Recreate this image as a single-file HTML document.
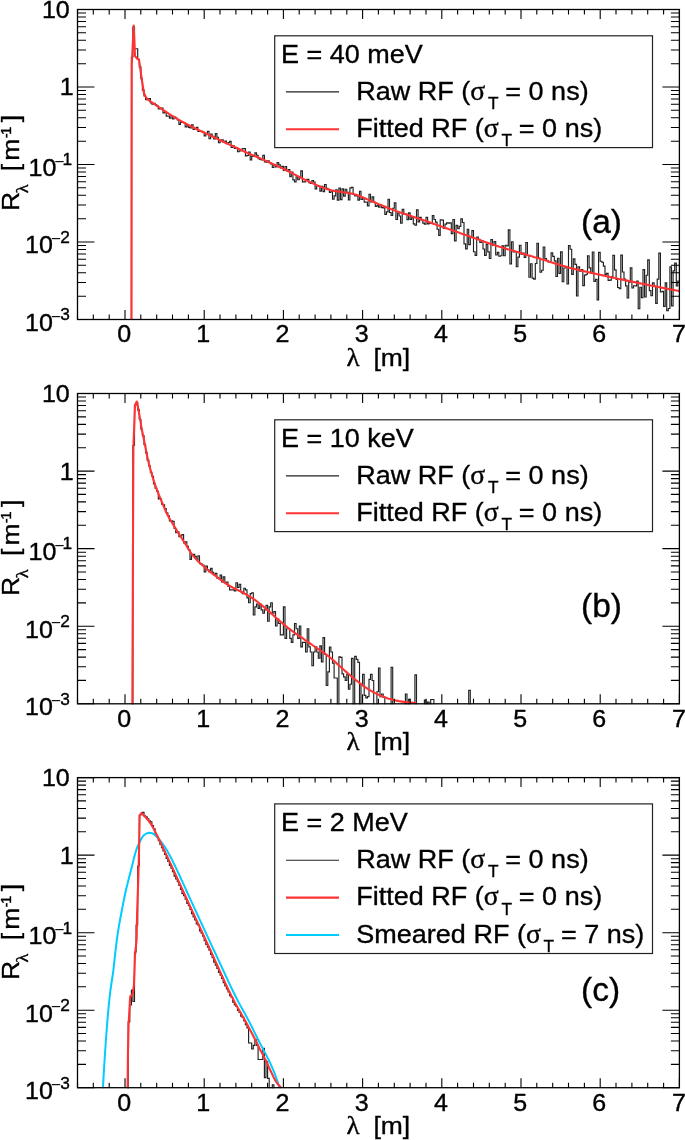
<!DOCTYPE html>
<html lang="en"><head><meta charset="utf-8"><title>Response functions</title>
<style>html,body{margin:0;padding:0;background:#fff;overflow:hidden}svg{display:block}text{font-family:"Liberation Sans", sans-serif;fill:#000;stroke:#000;stroke-width:0.35px}.sy{font-family:"Liberation Serif", serif}</style>
</head><body>
<svg width="685" height="1140" viewBox="0 0 685 1140">
<rect width="685" height="1140" fill="#fff"/>
<defs>
<clipPath id="c0"><rect x="77" y="9" width="602.9" height="311"/></clipPath>
<clipPath id="c1"><rect x="77" y="393" width="602.9" height="311.3"/></clipPath>
<clipPath id="c2"><rect x="77" y="777.1" width="602.9" height="311.1"/></clipPath>
</defs>
<g id="panel0">
<g clip-path="url(#c0)" fill="none" stroke-linejoin="round">
<path d="M77.5,359.5H131.4V57H132.9V27H134.5V48.7H137.7V59.4H139.3V66.8H140.9V78.7H142.4V90.1H144V95.8H145.6V99.7H147.2V99.5H148.8V98.5H150.4V102.8H151.9V104.2H153.5V103.3H155.1V104.5H156.7V106H158.3V108.9H159.9V108.3H161.5V108H163V112.9H164.6V112.3H166.2V116.1H167.8V116H169.4V118.1H171V116H172.5V119H174.1V117H175.7V118.2H177.3V119.8H178.9V124.3H180.5V122.3H182V122.2H183.6V122.7H185.2V126.9H186.8V125.6H188.4V127.5H190V127.9H191.5V124.8H193.1V129.5H194.7V128.6H196.3V127.4H197.9V131.4H199.5V131.1H201.1V131.4H202.6V132.2H204.2V135.8H205.8V133.6H207.4V131.4H209V138.7H210.6V134H212.1V136.4H213.7V138.9H215.3V133.6H216.9V137.2H218.5V142.6H220.1V140.4H221.6V139.9H223.2V142.5H224.8V141.1H226.4V143.7H228V142.6H229.6V141.4H231.1V147.4H232.7V145.9H234.3V148.3H235.9V147.6H237.5V151.7H239.1V150.9H240.7V150.6H242.2V148.5H243.8V148.6H245.4V155.9H247V155.3H248.6V152H250.2V160H251.7V156.4H253.3V156.1H254.9V152.9H256.5V155.2H258.1V158.7H259.7V159.5H261.2V159.8H262.8V155.4H264.4V161.8H266V162.1H267.6V160.9H269.2V163H270.7V163.9H272.3V167.5H273.9V164.8H275.5V166.9H277.1V162.6H278.7V164.9H280.3V167.8H281.8V166.3H283.4V170.3H285V166.5H286.6V170.8H288.2V169.6H289.8V176.7H291.3V172H292.9V179.8H294.5V181.8H296.1V176.7H297.7V179.7H299.3V176.7H300.8V170.8H302.4V181.9H305.6V179.7H307.2V179.3H308.8V182.6H310.3V183.4H311.9V180.6H313.5V182H315.1V188.8H316.7V185.7H318.3V186H319.9V191.1H321.4V186.3H323V191.6H324.6V184.5H326.2V188.3H327.8V189.2H329.4V192.5H330.9V190.8H332.5V199.2H334.1V195.8H335.7V189.7H337.3V200.1H338.9V188H340.4V199.6H342V188.9H343.6V196.1H345.2V189.2H346.8V192.3H348.4V200H349.9V187.9H351.5V187.4H353.1V194.5H354.7V195.9H357.9V200.1H359.5V191.2H361V199.5H362.6V197.9H364.2V202.1H365.8V202H367.4V205.9H369V194.2H370.5V201.8H372.1V196.9H373.7V202.3H375.3V206.5H376.9V205.3H378.5V207.2H380V204.9H381.6V207.6H383.2V207.9H384.8V214.3H386.4V211.9H388V199.2H389.5V212.5H391.1V215.3H392.7V208.2H394.3V202.8H395.9V219.5H397.5V213H399.1V216H400.6V223.2H402.2V209.2H403.8V214.1H407V219.6H408.6V212.8H410.1V219.4H411.7V217.5H413.3V223.9H414.9V225.2H416.5V209.8H418.1V221.9H419.6V217.4H421.2V220H422.8V223.1H424.4V224.1H426V217.3H427.6V223.9H429.1V223.5H430.7V222.9H432.3V215.6H433.9V219.5H435.5V222.1H437.1V229.2H438.7V235.5H440.2V219.7H441.8V220.1H443.4V228.5H445V224.1H446.6V222.9H448.2V223.1H449.7V222.9H451.3V233.6H452.9V219.5H454.5V240.8H456.1V225.4H457.7V228.7H459.2V226.3H460.8V218.9H462.4V222.5H464V243.8H465.6V248.8H467.2V229.2H468.7V244.6H470.3V237H471.9V230.6H473.5V251.7H475.1V255.4H476.7V237H478.3V239.4H479.8V242.5H481.4V240.6H483V249H484.6V255.4H486.2V244.1H487.8V251.8H489.3V258.5H490.9V239.6H492.5V245.3H494.1V241.5H495.7V255H497.3V252.4H498.8V256.2H500.4V255.7H502V245.8H503.6V255.7H505.2V245.2H506.8V245.8H508.3V229.9H509.9V263.8H511.5V241.7H513.1V251.9H514.7V251.6H516.3V266.7H517.9V257.1H519.4V245.2H521V254.2H522.6V253H524.2V257.4H525.8V242.5H527.4V255.5H528.9V277.2H530.5V263.7H532.1V278.1H533.7V279.1H535.3V263.5H536.9V243.2H538.4V258H540V272.2H541.6V270.2H543.2V247H544.8V258.6H546.4V260.4H547.9V262H549.5V261.5H551.1V252.9H552.7V256.3H554.3V260.8H555.9V276.5H557.5V258.2H559V273.3H560.6V251.8H562.2V281.7H563.8V268H565.4V266.8H567V284H568.5V245.6H570.1V249.2H571.7V274.4H573.3V258.8H574.9V264.3H576.5V296H578V266.7H579.6V271.2H581.2V269.6H582.8V285.6H584.4V275.1H586V274.2H587.5V255.9H589.1V267.9H590.7V273H592.3V252H593.9V281.3H595.5V279.4H597.1V299.9H598.6V252.4H600.2V261.2H601.8V262.2H603.4V266.1H605V274.4H606.6V273.3H608.1V280.4H609.7V280.1H611.3V276.6H612.9V255.3H614.5V269.8H616.1V279.3H617.6V287.5H619.2V288.7H620.8V255.1H622.4V272H624V279.1H625.6V285.8H627.1V298H628.7V282.2H630.3V267.8H631.9V288H633.5V285.7H635.1V285.9H636.7V281H638.2V308.7H639.8V287.2H641.4V297.6H643V269.6H644.6V297H646.2V275.2H647.7V259.8H649.3V290.6H650.9V295.7H652.5V282.8H654.1V286.3H655.7V303.4H657.2V279.1H658.8V253.1H660.4V292H662V291.4H663.6V306.3H665.2V282.9H666.7V310.6H668.3V308.5H669.9V266.9H671.5V305.8H673.1V270.8H674.7V263.1H676.3V286H677.8V281H679.4" stroke="#222" stroke-width="1.15" stroke-linejoin="miter"/>
<polyline points="131.5,330 131.8,64.5 133.7,25.5 135,56 137.1,58.7 139,59.7 141.3,76 143.9,92.9 145.4,96.2 146.9,98.5 148.4,100 149.9,101.1 151.4,102.1 152.9,103.2 154.4,104.2 155.9,105.2 157.4,106.1 158.9,107.1 160.4,108.1 161.9,109.1 163.4,110.1 164.9,111.1 166.4,112.1 167.9,113.1 169.4,114.1 170.9,115 172.4,116 173.9,116.9 175.4,117.8 176.9,118.7 178.4,119.6 179.9,120.4 181.4,121.3 182.9,122.1 184.4,122.9 185.9,123.7 187.4,124.5 188.9,125.3 190.4,126.1 191.9,126.8 193.4,127.5 194.9,128.3 196.4,129 197.9,129.7 199.4,130.4 200.9,131.2 202.4,131.8 203.9,132.5 205.4,133.2 206.9,133.9 208.4,134.6 209.9,135.3 211.4,136 212.9,136.7 214.4,137.4 215.9,138.1 217.4,138.9 218.9,139.6 220.4,140.3 221.9,141 223.4,141.8 224.9,142.5 226.4,143.2 227.9,143.9 229.4,144.6 230.9,145.2 232.4,145.9 233.9,146.6 235.4,147.3 236.9,148 238.4,148.7 239.9,149.4 241.4,150.1 242.9,150.8 244.4,151.5 245.9,152.2 247.4,152.9 248.9,153.6 250.4,154.3 251.9,154.9 253.4,155.5 254.9,156.1 256.4,156.7 257.9,157.4 259.4,158 260.9,158.6 262.4,159.3 263.9,159.9 265.4,160.6 266.9,161.3 268.4,161.9 269.9,162.6 271.4,163.3 272.9,164 274.4,164.6 275.9,165.3 277.4,166 278.9,166.7 280.4,167.4 281.9,168.1 283.4,168.8 284.9,169.5 286.4,170.3 287.9,171 289.4,171.8 290.9,172.5 292.4,173.3 293.9,174.1 295.4,174.9 296.9,175.7 298.4,176.4 299.9,177.2 301.4,178 302.9,178.7 304.4,179.5 305.9,180.2 307.4,180.9 308.9,181.6 310.4,182.3 311.9,182.9 313.4,183.6 314.9,184.3 316.4,184.9 317.9,185.6 319.4,186.3 320.9,186.9 322.4,187.5 323.9,188 325.4,188.6 326.9,189.1 328.4,189.5 329.9,189.9 331.4,190.3 332.9,190.6 334.4,190.9 335.9,191.1 337.4,191.4 338.9,191.6 340.4,191.8 341.9,192 343.4,192.3 344.9,192.5 346.4,192.7 347.9,193 349.4,193.2 350.9,193.5 352.4,193.8 353.9,194.2 355.4,194.6 356.9,195.1 358.4,195.6 359.9,196.2 361.4,196.8 362.9,197.4 364.4,198 365.9,198.7 367.4,199.4 368.9,200 370.4,200.7 371.9,201.3 373.4,201.9 374.9,202.5 376.4,203.1 377.9,203.7 379.4,204.4 380.9,205 382.4,205.6 383.9,206.2 385.4,206.8 386.9,207.5 388.4,208.1 389.9,208.7 391.4,209.3 392.9,209.8 394.4,210.4 395.9,211 397.4,211.5 398.9,212.1 400.4,212.6 401.9,213.1 403.4,213.6 404.9,214.1 406.4,214.6 407.9,215.1 409.4,215.6 410.9,216.1 412.4,216.6 413.9,217 415.4,217.5 416.9,218 418.4,218.5 419.9,219 421.4,219.5 422.9,220 424.4,220.6 425.9,221.1 427.4,221.6 428.9,222.1 430.4,222.6 431.9,223.2 433.4,223.7 434.9,224.2 436.4,224.8 437.9,225.3 439.4,225.8 440.9,226.3 442.4,226.9 443.9,227.4 445.4,227.9 446.9,228.4 448.4,229 449.9,229.5 451.4,230 452.9,230.5 454.4,231.1 455.9,231.6 457.4,232.1 458.9,232.6 460.4,233.2 461.9,233.7 463.4,234.2 464.9,234.8 466.4,235.3 467.9,235.8 469.4,236.3 470.9,236.9 472.4,237.4 473.9,237.9 475.4,238.5 476.9,239 478.4,239.5 479.9,240.1 481.4,240.6 482.9,241.2 484.4,241.7 485.9,242.2 487.4,242.7 488.9,243.3 490.4,243.8 491.9,244.3 493.4,244.8 494.9,245.3 496.4,245.7 497.9,246.2 499.4,246.7 500.9,247.1 502.4,247.6 503.9,248 505.4,248.5 506.9,248.9 508.4,249.4 509.9,249.8 511.4,250.3 512.9,250.7 514.4,251.1 515.9,251.6 517.4,252 518.9,252.5 520.4,252.9 521.9,253.4 523.4,253.8 524.9,254.3 526.4,254.7 527.9,255.2 529.4,255.6 530.9,256.1 532.4,256.5 533.9,257 535.4,257.4 536.9,257.8 538.4,258.3 539.9,258.7 541.4,259.2 542.9,259.6 544.4,260.1 545.9,260.5 547.4,261 548.9,261.5 550.4,261.9 551.9,262.4 553.4,262.9 554.9,263.4 556.4,263.8 557.9,264.3 559.4,264.8 560.9,265.2 562.4,265.7 563.9,266.1 565.4,266.5 566.9,267 568.4,267.4 569.9,267.8 571.4,268.2 572.9,268.5 574.4,268.9 575.9,269.3 577.4,269.6 578.9,270 580.4,270.4 581.9,270.7 583.4,271.1 584.9,271.4 586.4,271.7 587.9,272.1 589.4,272.4 590.9,272.7 592.4,273.1 593.9,273.4 595.4,273.7 596.9,274.1 598.4,274.4 599.9,274.7 601.4,275.1 602.9,275.4 604.4,275.7 605.9,276.1 607.4,276.4 608.9,276.7 610.4,277.1 611.9,277.4 613.4,277.7 614.9,278 616.4,278.3 617.9,278.7 619.4,279 620.9,279.3 622.4,279.6 623.9,279.9 625.4,280.3 626.9,280.6 628.4,280.9 629.9,281.2 631.4,281.5 632.9,281.8 634.4,282.1 635.9,282.4 637.4,282.8 638.9,283.1 640.4,283.4 641.9,283.7 643.4,284 644.9,284.3 646.4,284.6 647.9,284.9 649.4,285.2 650.9,285.5 652.4,285.8 653.9,286.1 655.4,286.4 656.9,286.7 658.4,287 659.9,287.3 661.4,287.6 662.9,287.9 664.4,288.2 665.9,288.5 667.4,288.8 668.9,289.1 670.4,289.4 671.9,289.7 673.4,289.9 674.9,290.2 676.4,290.5 677.9,290.8 679.4,291.1" stroke="#ff3333" stroke-width="2.1"/>
</g>
<path d="M77.5,319.5v-5M77.5,9.5v5M93.3,319.5v-5M93.3,9.5v5M109.2,319.5v-5M109.2,9.5v5M125,319.5v-9.5M125,9.5v9.5M140.8,319.5v-5M140.8,9.5v5M156.7,319.5v-5M156.7,9.5v5M172.5,319.5v-5M172.5,9.5v5M188.4,319.5v-5M188.4,9.5v5M204.2,319.5v-9.5M204.2,9.5v9.5M220,319.5v-5M220,9.5v5M235.9,319.5v-5M235.9,9.5v5M251.7,319.5v-5M251.7,9.5v5M267.6,319.5v-5M267.6,9.5v5M283.4,319.5v-9.5M283.4,9.5v9.5M299.2,319.5v-5M299.2,9.5v5M315.1,319.5v-5M315.1,9.5v5M330.9,319.5v-5M330.9,9.5v5M346.8,319.5v-5M346.8,9.5v5M362.6,319.5v-9.5M362.6,9.5v9.5M378.4,319.5v-5M378.4,9.5v5M394.3,319.5v-5M394.3,9.5v5M410.1,319.5v-5M410.1,9.5v5M426,319.5v-5M426,9.5v5M441.8,319.5v-9.5M441.8,9.5v9.5M457.6,319.5v-5M457.6,9.5v5M473.5,319.5v-5M473.5,9.5v5M489.3,319.5v-5M489.3,9.5v5M505.2,319.5v-5M505.2,9.5v5M521,319.5v-9.5M521,9.5v9.5M536.8,319.5v-5M536.8,9.5v5M552.7,319.5v-5M552.7,9.5v5M568.5,319.5v-5M568.5,9.5v5M584.4,319.5v-5M584.4,9.5v5M600.2,319.5v-9.5M600.2,9.5v9.5M616,319.5v-5M616,9.5v5M631.9,319.5v-5M631.9,9.5v5M647.7,319.5v-5M647.7,9.5v5M663.6,319.5v-5M663.6,9.5v5M679.4,319.5v-9.5M679.4,9.5v9.5M77.5,9.5h17M679.4,9.5h-17M77.5,63.7h8.5M679.4,63.7h-8.5M77.5,50h8.5M679.4,50h-8.5M77.5,40.3h8.5M679.4,40.3h-8.5M77.5,32.8h8.5M679.4,32.8h-8.5M77.5,26.7h8.5M679.4,26.7h-8.5M77.5,21.5h8.5M679.4,21.5h-8.5M77.5,17h8.5M679.4,17h-8.5M77.5,13h8.5M679.4,13h-8.5M77.5,87h17M679.4,87h-17M77.5,141.2h8.5M679.4,141.2h-8.5M77.5,127.5h8.5M679.4,127.5h-8.5M77.5,117.8h8.5M679.4,117.8h-8.5M77.5,110.3h8.5M679.4,110.3h-8.5M77.5,104.2h8.5M679.4,104.2h-8.5M77.5,99h8.5M679.4,99h-8.5M77.5,94.5h8.5M679.4,94.5h-8.5M77.5,90.5h8.5M679.4,90.5h-8.5M77.5,164.5h17M679.4,164.5h-17M77.5,218.7h8.5M679.4,218.7h-8.5M77.5,205h8.5M679.4,205h-8.5M77.5,195.3h8.5M679.4,195.3h-8.5M77.5,187.8h8.5M679.4,187.8h-8.5M77.5,181.7h8.5M679.4,181.7h-8.5M77.5,176.5h8.5M679.4,176.5h-8.5M77.5,172h8.5M679.4,172h-8.5M77.5,168h8.5M679.4,168h-8.5M77.5,242h17M679.4,242h-17M77.5,296.2h8.5M679.4,296.2h-8.5M77.5,282.5h8.5M679.4,282.5h-8.5M77.5,272.8h8.5M679.4,272.8h-8.5M77.5,265.3h8.5M679.4,265.3h-8.5M77.5,259.2h8.5M679.4,259.2h-8.5M77.5,254h8.5M679.4,254h-8.5M77.5,249.5h8.5M679.4,249.5h-8.5M77.5,245.5h8.5M679.4,245.5h-8.5M77.5,319.5h17M679.4,319.5h-17" stroke="#000" stroke-width="1.1" fill="none"/>
<rect x="77.5" y="9.5" width="601.9" height="310" fill="none" stroke="#000" stroke-width="1.3"/>
<text transform="translate(124.1,342.4) scale(1.08,1)" font-size="23.2" text-anchor="middle">0</text>
<text transform="translate(203.3,342.4) scale(1.08,1)" font-size="23.2" text-anchor="middle">1</text>
<text transform="translate(282.5,342.4) scale(1.08,1)" font-size="23.2" text-anchor="middle">2</text>
<text transform="translate(361.7,342.4) scale(1.08,1)" font-size="23.2" text-anchor="middle">3</text>
<text transform="translate(440.9,342.4) scale(1.08,1)" font-size="23.2" text-anchor="middle">4</text>
<text transform="translate(520.1,342.4) scale(1.08,1)" font-size="23.2" text-anchor="middle">5</text>
<text transform="translate(599.3,342.4) scale(1.08,1)" font-size="23.2" text-anchor="middle">6</text>
<text transform="translate(679,342.4) scale(1.08,1)" font-size="23.2" text-anchor="middle">7</text>
<text transform="translate(346.5,365.7) scale(1.08,1)" font-size="24.5"><tspan class="sy" font-size="25">λ</tspan><tspan x="25">[m]</tspan></text>
<text transform="translate(69.8,17.9) scale(1.08,1)" font-size="23.2" text-anchor="end">10</text>
<text transform="translate(73.6,95.4) scale(1.08,1)" font-size="23.2" text-anchor="end">1</text>
<text transform="translate(28.6,175.9) scale(1.08,1)" font-size="23.2">10<tspan x="23.8" dy="-9.4" font-size="16" stroke="none">−</tspan><tspan x="31.4" dy="-1.2" font-size="16">1</tspan></text>
<text transform="translate(25,253.4) scale(1.08,1)" font-size="23.2">10<tspan x="23.8" dy="-9.4" font-size="16" stroke="none">−</tspan><tspan x="32.6" dy="-1.2" font-size="16">2</tspan></text>
<text transform="translate(25,330.9) scale(1.08,1)" font-size="23.2">10<tspan x="23.8" dy="-9.4" font-size="16" stroke="none">−</tspan><tspan x="32.6" dy="-1.2" font-size="16">3</tspan></text>
<text transform="translate(19.3,211) rotate(-90) scale(1.08,1)" font-size="24.5">R<tspan class="sy" x="16.4" dy="8.2" font-size="17">λ</tspan><tspan x="36.9" dy="-8.2">[</tspan><tspan x="46.6">m</tspan><tspan x="67.3" dy="-8.3" font-size="14">-</tspan><tspan x="70.4" font-size="14">1</tspan><tspan x="82.3" dy="8.3">]</tspan></text>
<text transform="translate(581.1,232.8) scale(1.03,1)" font-size="32.5">(a)</text>
<rect x="274.7" y="35.8" width="377.8" height="111.8" fill="#fff" stroke="#222" stroke-width="1.2"/>
<text transform="translate(281,62.5) scale(1.047,1)" font-size="25.8">E = 40 meV</text>
<path d="M286,91.9H339" stroke="#222" stroke-width="1.15" fill="none"/>
<text transform="translate(356.3,99.7) scale(1.047,1)" font-size="25.8">Raw RF (<tspan class="sy" font-size="26.5">σ</tspan><tspan dy="9.4" dx="2.5" font-size="16.5">T</tspan><tspan dy="-9.4" dx="-0.6"> = 0 ns)</tspan></text>
<path d="M286,129.2H339" stroke="#ff3333" stroke-width="2.1" fill="none"/>
<text transform="translate(356.3,137) scale(1.047,1)" font-size="25.8">Fitted RF (<tspan class="sy" font-size="26.5">σ</tspan><tspan dy="9.4" dx="2.5" font-size="16.5">T</tspan><tspan dy="-9.4" dx="-0.6"> = 0 ns)</tspan></text>
</g>
<g id="panel1">
<g clip-path="url(#c1)" fill="none" stroke-linejoin="round">
<path d="M77.5,743.5H132.9V445.5H134.5V405H136.1V402.5H137.7V409.9H139.3V419.5H140.9V429.2H142.4V435.6H144V444.7H145.6V452.9H147.2V460.4H148.8V466H150.4V472.3H151.9V476.2H153.5V483.9H155.1V488.2H156.7V491.3H158.3V498.9H159.9V498.7H161.5V504.2H163V504.7H164.6V508.6H166.2V512.8H167.8V515.8H169.4V520.8H171V520.7H172.5V521.4H174.1V528.4H175.7V532.7H177.3V531.9H178.9V536.6H180.5V535.9H182V534.5H183.6V543H185.2V541.9H186.8V546.2H188.4V549.8H190V559.4H191.5V555.1H193.1V554.4H194.7V556.3H196.3V559.4H197.9V555.7H199.5V563.6H201.1V564H202.6V565.3H204.2V571.8H205.8V566.1H207.4V569.8H209V571.8H210.6V568.4H212.1V572.4H213.7V574.5H215.3V573.4H216.9V578.1H218.5V578.7H220.1V575.1H221.6V582H223.2V576.8H224.8V582.7H226.4V582H228V586.5H229.6V589.9H234.3V590.8H235.9V582.7H237.5V587.3H239.1V584.2H240.7V591.7H242.2V593.6H243.8V588.2H245.4V589.9H247V597.9H248.6V602.7H250.2V593.6H251.7V592.7H253.3V615H254.9V606.8H256.5V604H258.1V608.3H259.7V604H261.2V609.9H262.8V613.2H264.4V609.9H266V605.4H267.6V621.2H269.2V606.8H270.7V602.7H272.3V613.2H273.9V611.5H275.5V626H277.1V619H278.7V623.5H280.3V634.8H283.4V606.8H285V638.4H286.6V628.7H289.8V638.4H291.3V642.3H292.9V634.8H294.5V623.5H296.1V628.7H297.7V638.4H299.3V626H300.8V646.8H302.4V642.3H305.6V652H307.2V628.7H308.8V646.8H310.3V652H311.9V665.7H313.5V652H315.1V646.8H316.7V652H318.3V658.2H319.9V645.8H321.4V661.9H323V637.6H324.6V654.4H326.2V685.5H327.8V671.8H329.4V647H330.9V652H332.5V663.1H334.1V678H337.3V728.9H338.9V656.9H340.4V657.4H342V673.8H343.6V676.8H345.2V680.5H346.8V674.3H348.4V689.2H349.9V684.2H351.5V658.4H353.1V728.9H354.7V656.4H356.3V659.4H357.9V662.4H359.5V728.9H361V684.2H362.6V674.3H364.2V695.4H365.8V697.9H367.4V696.6H369V679.3H370.5V674.3H372.1V680.5H373.7V728.9H376.9V691.7H378.5V668H380V696.6H381.6V694H383.2V697.5H384.8V728.9H389.5V743.5H391.1V667.3H392.7V743.5H405.4V694H407V743.5H408.6V699.3H410.1V743.5H414.9V674.8H416.5V743.5H424.4V700H426V743.5H427.6V702H429.1V743.5H430.7V699.5H433.9V743.5H468.7V690.4H470.3V743.5H679.4" stroke="#222" stroke-width="1.15" stroke-linejoin="miter"/>
<polyline points="132.3,715 133.1,515 133.4,447.6 135,405.5 136.8,401.5 138.3,408.7 139.8,417.4 141.3,426.6 142.8,434.2 144.3,441.4 145.8,449.2 147.3,456.8 148.8,463.3 150.3,469 151.8,474.3 153.3,479.3 154.8,483.9 156.3,488.1 157.8,492 159.3,495.8 160.8,499.4 162.3,503.1 163.8,506.7 165.3,510.2 166.8,513.4 168.3,516.3 169.8,519 171.3,521.5 172.8,523.9 174.3,526.3 175.8,528.8 177.3,531.2 178.8,533.6 180.3,536 181.8,538.3 183.3,540.7 184.8,543 186.3,545.5 187.8,548 189.3,550.4 190.8,552.7 192.3,554.8 193.8,556.6 195.3,558.3 196.8,559.9 198.3,561.4 199.8,562.8 201.3,564.2 202.8,565.5 204.3,566.9 205.8,568.2 207.3,569.5 208.8,570.7 210.3,571.9 211.8,573.1 213.3,574.3 214.8,575.4 216.3,576.5 217.8,577.6 219.3,578.8 220.8,579.9 222.3,581 223.8,582.1 225.3,583.1 226.8,584.2 228.3,585.1 229.8,586 231.3,586.8 232.8,587.6 234.3,588.3 235.8,589.1 237.3,589.8 238.8,590.5 240.3,591.2 241.8,592 243.3,592.8 244.8,593.7 246.3,594.5 247.8,595.4 249.3,596.3 250.8,597.2 252.3,598.2 253.8,599.2 255.3,600.2 256.8,601.3 258.3,602.5 259.8,603.7 261.3,604.9 262.8,606.1 264.3,607.4 265.8,608.7 267.3,609.9 268.8,611.2 270.3,612.6 271.8,613.9 273.3,615.3 274.8,616.6 276.3,618 277.8,619.3 279.3,620.6 280.8,621.9 282.3,623.1 283.8,624.4 285.3,625.6 286.8,626.8 288.3,628 289.8,629.2 291.3,630.3 292.8,631.4 294.3,632.5 295.8,633.6 297.3,634.6 298.8,635.7 300.3,636.7 301.8,637.7 303.3,638.7 304.8,639.8 306.3,640.8 307.8,641.9 309.3,642.9 310.8,643.9 312.3,645 313.8,646 315.3,647.1 316.8,648.1 318.3,649.1 319.8,650.2 321.3,651.2 322.8,652.2 324.3,653.2 325.8,654.3 327.3,655.4 328.8,656.5 330.3,657.7 331.8,659 333.3,660.3 334.8,661.6 336.3,663 337.8,664.4 339.3,665.8 340.8,667.1 342.3,668.5 343.8,669.8 345.3,671.1 346.8,672.4 348.3,673.7 349.8,675 351.3,676.3 352.8,677.6 354.3,678.8 355.8,680.1 357.3,681.2 358.8,682.4 360.3,683.5 361.8,684.7 363.3,685.8 364.8,686.9 366.3,687.9 367.8,688.9 369.3,689.8 370.8,690.7 372.3,691.5 373.8,692.4 375.3,693.1 376.8,693.9 378.3,694.6 379.8,695.3 381.3,695.9 382.8,696.5 384.3,697.1 385.8,697.6 387.3,698.2 388.8,698.7 390.3,699.1 391.8,699.6 393.3,699.9 394.8,700.3 396.3,700.6 397.8,700.9 399.3,701.2 400.8,701.4 402.3,701.6 403.8,701.9 405.3,702 406.8,702.2 408.3,702.3 409.8,702.5 411.3,702.6 412.8,702.7 414.3,702.8 415.8,702.9 416.3,702.9" stroke="#ff3333" stroke-width="2.1"/>
</g>
<path d="M77.5,703.8v-5M77.5,393.5v5M93.3,703.8v-5M93.3,393.5v5M109.2,703.8v-5M109.2,393.5v5M125,703.8v-9.5M125,393.5v9.5M140.8,703.8v-5M140.8,393.5v5M156.7,703.8v-5M156.7,393.5v5M172.5,703.8v-5M172.5,393.5v5M188.4,703.8v-5M188.4,393.5v5M204.2,703.8v-9.5M204.2,393.5v9.5M220,703.8v-5M220,393.5v5M235.9,703.8v-5M235.9,393.5v5M251.7,703.8v-5M251.7,393.5v5M267.6,703.8v-5M267.6,393.5v5M283.4,703.8v-9.5M283.4,393.5v9.5M299.2,703.8v-5M299.2,393.5v5M315.1,703.8v-5M315.1,393.5v5M330.9,703.8v-5M330.9,393.5v5M346.8,703.8v-5M346.8,393.5v5M362.6,703.8v-9.5M362.6,393.5v9.5M378.4,703.8v-5M378.4,393.5v5M394.3,703.8v-5M394.3,393.5v5M410.1,703.8v-5M410.1,393.5v5M426,703.8v-5M426,393.5v5M441.8,703.8v-9.5M441.8,393.5v9.5M457.6,703.8v-5M457.6,393.5v5M473.5,703.8v-5M473.5,393.5v5M489.3,703.8v-5M489.3,393.5v5M505.2,703.8v-5M505.2,393.5v5M521,703.8v-9.5M521,393.5v9.5M536.8,703.8v-5M536.8,393.5v5M552.7,703.8v-5M552.7,393.5v5M568.5,703.8v-5M568.5,393.5v5M584.4,703.8v-5M584.4,393.5v5M600.2,703.8v-9.5M600.2,393.5v9.5M616,703.8v-5M616,393.5v5M631.9,703.8v-5M631.9,393.5v5M647.7,703.8v-5M647.7,393.5v5M663.6,703.8v-5M663.6,393.5v5M679.4,703.8v-9.5M679.4,393.5v9.5M77.5,393.5h17M679.4,393.5h-17M77.5,447.7h8.5M679.4,447.7h-8.5M77.5,434.1h8.5M679.4,434.1h-8.5M77.5,424.4h8.5M679.4,424.4h-8.5M77.5,416.9h8.5M679.4,416.9h-8.5M77.5,410.7h8.5M679.4,410.7h-8.5M77.5,405.5h8.5M679.4,405.5h-8.5M77.5,401h8.5M679.4,401h-8.5M77.5,397h8.5M679.4,397h-8.5M77.5,471.1h17M679.4,471.1h-17M77.5,525.3h8.5M679.4,525.3h-8.5M77.5,511.6h8.5M679.4,511.6h-8.5M77.5,501.9h8.5M679.4,501.9h-8.5M77.5,494.4h8.5M679.4,494.4h-8.5M77.5,488.3h8.5M679.4,488.3h-8.5M77.5,483.1h8.5M679.4,483.1h-8.5M77.5,478.6h8.5M679.4,478.6h-8.5M77.5,474.6h8.5M679.4,474.6h-8.5M77.5,548.6h17M679.4,548.6h-17M77.5,602.9h8.5M679.4,602.9h-8.5M77.5,589.2h8.5M679.4,589.2h-8.5M77.5,579.5h8.5M679.4,579.5h-8.5M77.5,572h8.5M679.4,572h-8.5M77.5,565.9h8.5M679.4,565.9h-8.5M77.5,560.7h8.5M679.4,560.7h-8.5M77.5,556.2h8.5M679.4,556.2h-8.5M77.5,552.2h8.5M679.4,552.2h-8.5M77.5,626.2h17M679.4,626.2h-17M77.5,680.4h8.5M679.4,680.4h-8.5M77.5,666.8h8.5M679.4,666.8h-8.5M77.5,657.1h8.5M679.4,657.1h-8.5M77.5,649.6h8.5M679.4,649.6h-8.5M77.5,643.4h8.5M679.4,643.4h-8.5M77.5,638.2h8.5M679.4,638.2h-8.5M77.5,633.7h8.5M679.4,633.7h-8.5M77.5,629.8h8.5M679.4,629.8h-8.5M77.5,703.8h17M679.4,703.8h-17" stroke="#000" stroke-width="1.1" fill="none"/>
<rect x="77.5" y="393.5" width="601.9" height="310.3" fill="none" stroke="#000" stroke-width="1.3"/>
<text transform="translate(124.1,726.7) scale(1.08,1)" font-size="23.2" text-anchor="middle">0</text>
<text transform="translate(203.3,726.7) scale(1.08,1)" font-size="23.2" text-anchor="middle">1</text>
<text transform="translate(282.5,726.7) scale(1.08,1)" font-size="23.2" text-anchor="middle">2</text>
<text transform="translate(361.7,726.7) scale(1.08,1)" font-size="23.2" text-anchor="middle">3</text>
<text transform="translate(440.9,726.7) scale(1.08,1)" font-size="23.2" text-anchor="middle">4</text>
<text transform="translate(520.1,726.7) scale(1.08,1)" font-size="23.2" text-anchor="middle">5</text>
<text transform="translate(599.3,726.7) scale(1.08,1)" font-size="23.2" text-anchor="middle">6</text>
<text transform="translate(679,726.7) scale(1.08,1)" font-size="23.2" text-anchor="middle">7</text>
<text transform="translate(346.5,750) scale(1.08,1)" font-size="24.5"><tspan class="sy" font-size="25">λ</tspan><tspan x="25">[m]</tspan></text>
<text transform="translate(69.8,401.9) scale(1.08,1)" font-size="23.2" text-anchor="end">10</text>
<text transform="translate(73.6,479.5) scale(1.08,1)" font-size="23.2" text-anchor="end">1</text>
<text transform="translate(28.6,560) scale(1.08,1)" font-size="23.2">10<tspan x="23.8" dy="-9.4" font-size="16" stroke="none">−</tspan><tspan x="31.4" dy="-1.2" font-size="16">1</tspan></text>
<text transform="translate(25,637.6) scale(1.08,1)" font-size="23.2">10<tspan x="23.8" dy="-9.4" font-size="16" stroke="none">−</tspan><tspan x="32.6" dy="-1.2" font-size="16">2</tspan></text>
<text transform="translate(25,715.2) scale(1.08,1)" font-size="23.2">10<tspan x="23.8" dy="-9.4" font-size="16" stroke="none">−</tspan><tspan x="32.6" dy="-1.2" font-size="16">3</tspan></text>
<text transform="translate(19.3,595.9) rotate(-90) scale(1.08,1)" font-size="24.5">R<tspan class="sy" x="16.4" dy="8.2" font-size="17">λ</tspan><tspan x="36.9" dy="-8.2">[</tspan><tspan x="46.6">m</tspan><tspan x="67.3" dy="-8.3" font-size="14">-</tspan><tspan x="70.4" font-size="14">1</tspan><tspan x="82.3" dy="8.3">]</tspan></text>
<text transform="translate(581.1,616.8) scale(1.03,1)" font-size="32.5">(b)</text>
<rect x="274.7" y="419.8" width="377.8" height="111.8" fill="#fff" stroke="#222" stroke-width="1.2"/>
<text transform="translate(281,446.5) scale(1.047,1)" font-size="25.8">E = 10 keV</text>
<path d="M286,475.9H339" stroke="#222" stroke-width="1.15" fill="none"/>
<text transform="translate(356.3,483.7) scale(1.047,1)" font-size="25.8">Raw RF (<tspan class="sy" font-size="26.5">σ</tspan><tspan dy="9.4" dx="2.5" font-size="16.5">T</tspan><tspan dy="-9.4" dx="-0.6"> = 0 ns)</tspan></text>
<path d="M286,513.2H339" stroke="#ff3333" stroke-width="2.1" fill="none"/>
<text transform="translate(356.3,521) scale(1.047,1)" font-size="25.8">Fitted RF (<tspan class="sy" font-size="26.5">σ</tspan><tspan dy="9.4" dx="2.5" font-size="16.5">T</tspan><tspan dy="-9.4" dx="-0.6"> = 0 ns)</tspan></text>
</g>
<g id="panel2">
<g clip-path="url(#c2)" fill="none" stroke-linejoin="round">
<path d="M77.5,1127.6H128.2V1022H129.8V1005H131.4V990H132.9V1001.5H134.5V952H136.1V925H137.7V866H139.3V815H140.9V813.5H142.4V812.4H144V815.8H145.6V816.9H147.2V818.7H148.8V820.7H150.4V821.7H151.9V825.6H153.5V828.7H155.1V835.1H156.7V837.2H158.3V840.7H159.9V844.5H161.5V847.7H163V850.8H164.6V854.5H166.2V858.3H167.8V861.3H169.4V865.4H171V868.1H172.5V871.7H174.1V876.1H175.7V878.9H177.3V881.7H178.9V885.4H180.5V889.3H182V893.6H183.6V895.7H185.2V899.2H186.8V903.4H188.4V905.7H190V909.5H191.5V913.6H193.1V916.9H194.7V920H196.3V923.8H197.9V925.1H199.5V930.9H201.1V933.1H202.6V936.1H204.2V940.7H205.8V944.4H207.4V947.1H209V950.1H210.6V954.3H212.1V957.7H213.7V962.1H215.3V965.2H216.9V968.4H218.5V972.5H220.1V975.2H221.6V978.3H223.2V982.6H224.8V986H226.4V988.9H228V991.9H229.6V995.7H231.1V997.2H232.7V1002.2H234.3V1005H235.9V1006.5H237.5V1010.3H239.1V1012.4H240.7V1016.2H242.2V1017.3H243.8V1020.8H245.4V1024.7H247V1027.9H248.6V1043H251.7V1049H253.3V1045.4H254.9V1039.8H256.5V1045.4H258.1V1059.5H262.8V1048.4H264.4V1077.6H266V1061.5H267.6V1078.4H269.2V1127.6H272.3V1084.8H273.9V1127.6H679.4" stroke="#222" stroke-width="1.15" stroke-linejoin="miter"/>
<polyline points="102.8,1090 104.3,1064.2 105.8,1041.5 107.3,1021.9 108.8,1004.9 110.3,991.1 111.8,981 113.3,970.8 114.8,957.1 116.3,944.1 117.8,932.9 119.3,923.9 120.8,915.8 122.3,907.9 123.8,900.2 125.3,893 126.8,886.5 128.3,880.6 129.8,874.8 131.3,869 132.8,862.9 134.3,856.8 135.8,851.4 137.3,847.2 138.8,843.8 140.3,840.8 141.8,838 143.3,835.8 144.8,834.5 146.3,833.6 147.8,833.1 149.3,832.8 150.8,832.9 152.3,833.3 153.8,834 155.3,835.2 156.8,836.8 158.3,838.4 159.8,840.1 161.3,842 162.8,844 164.3,846.2 165.8,848.6 167.3,851.1 168.8,853.7 170.3,856.5 171.8,859.4 173.3,862.4 174.8,865.5 176.3,868.6 177.8,871.8 179.3,875 180.8,878.3 182.3,881.6 183.8,884.9 185.3,888.2 186.8,891.5 188.3,894.8 189.8,898.1 191.3,901.3 192.8,904.5 194.3,907.8 195.8,911 197.3,914.3 198.8,917.6 200.3,920.8 201.8,924.1 203.3,927.3 204.8,930.6 206.3,933.8 207.8,937.1 209.3,940.3 210.8,943.6 212.3,946.8 213.8,950 215.3,953.2 216.8,956.5 218.3,959.7 219.8,963 221.3,966.2 222.8,969.5 224.3,972.7 225.8,976 227.3,979.2 228.8,982.4 230.3,985.6 231.8,988.7 233.3,991.8 234.8,994.8 236.3,997.8 237.8,1000.8 239.3,1003.6 240.8,1006.4 242.3,1009.1 243.8,1011.8 245.3,1014.5 246.8,1017.2 248.3,1020 249.8,1022.9 251.3,1025.8 252.8,1028.9 254.3,1031.9 255.8,1035 257.3,1038 258.8,1041 260.3,1043.9 261.8,1046.8 263.3,1049.6 264.8,1052.4 266.3,1055.2 267.8,1058.1 269.3,1061.2 270.8,1064.4 272.3,1067.8 273.8,1071.4 275.3,1075.3 276.8,1079.5 278.3,1083.9 279.7,1088.5" stroke="#00ccff" stroke-width="2.0"/>
<polyline points="127.6,1090 127.9,1056.3 128.6,1024.3 129.7,1004.9 130.2,996.4 132.6,994.9 133.9,985.5 134.5,970 135,955.3 136.6,939.5 137.1,913.2 138.2,881.6 138.9,856 139.7,815.8 141.3,813 142.8,814.4 144.3,815.9 145.8,817.5 147.3,819.2 148.8,821 150.3,823 151.8,825.4 153.3,828 154.8,830.9 156.3,834 157.8,837 159.3,840 160.8,843 162.3,846.3 163.8,849.5 165.3,852.6 166.8,855.8 168.3,858.9 169.8,862.1 171.3,865.3 172.8,868.6 174.3,871.8 175.8,875.1 177.3,878.4 178.8,881.6 180.3,884.9 181.8,888.2 183.3,891.5 184.8,894.8 186.3,898 187.8,901.3 189.3,904.6 190.8,907.8 192.3,911.1 193.8,914.3 195.3,917.6 196.8,920.8 198.3,924.1 199.8,927.3 201.3,930.5 202.8,933.8 204.3,937 205.8,940.3 207.3,943.5 208.8,946.8 210.3,950 211.8,953.3 213.3,956.6 214.8,959.9 216.3,963.2 217.8,966.5 219.3,969.9 220.8,973.2 222.3,976.5 223.8,979.8 225.3,983.1 226.8,986.3 228.3,989.5 229.8,992.6 231.3,995.7 232.8,998.6 234.3,1001.5 235.8,1004.3 237.3,1007 238.8,1009.6 240.3,1012.2 241.8,1014.8 243.3,1017.4 244.8,1020.1 246.3,1022.8 247.8,1025.6 249.3,1028.4 250.8,1031.2 252.3,1034 253.8,1036.9 255.3,1039.8 256.8,1042.8 258.3,1046 259.8,1049 261.3,1051.8 262.8,1054.6 264.3,1057.5 265.8,1060.5 267.3,1063.8 268.8,1067 270.3,1070.3 271.8,1073.4 273.3,1076.6 274.8,1079.6 276.3,1082 277.8,1084.1 279.3,1085.8 280.8,1087.3 281.5,1087.8" stroke="#ff3333" stroke-width="2.1"/>
</g>
<path d="M77.5,1087.7v-5M77.5,777.6v5M93.3,1087.7v-5M93.3,777.6v5M109.2,1087.7v-5M109.2,777.6v5M125,1087.7v-9.5M125,777.6v9.5M140.8,1087.7v-5M140.8,777.6v5M156.7,1087.7v-5M156.7,777.6v5M172.5,1087.7v-5M172.5,777.6v5M188.4,1087.7v-5M188.4,777.6v5M204.2,1087.7v-9.5M204.2,777.6v9.5M220,1087.7v-5M220,777.6v5M235.9,1087.7v-5M235.9,777.6v5M251.7,1087.7v-5M251.7,777.6v5M267.6,1087.7v-5M267.6,777.6v5M283.4,1087.7v-9.5M283.4,777.6v9.5M299.2,1087.7v-5M299.2,777.6v5M315.1,1087.7v-5M315.1,777.6v5M330.9,1087.7v-5M330.9,777.6v5M346.8,1087.7v-5M346.8,777.6v5M362.6,1087.7v-9.5M362.6,777.6v9.5M378.4,1087.7v-5M378.4,777.6v5M394.3,1087.7v-5M394.3,777.6v5M410.1,1087.7v-5M410.1,777.6v5M426,1087.7v-5M426,777.6v5M441.8,1087.7v-9.5M441.8,777.6v9.5M457.6,1087.7v-5M457.6,777.6v5M473.5,1087.7v-5M473.5,777.6v5M489.3,1087.7v-5M489.3,777.6v5M505.2,1087.7v-5M505.2,777.6v5M521,1087.7v-9.5M521,777.6v9.5M536.8,1087.7v-5M536.8,777.6v5M552.7,1087.7v-5M552.7,777.6v5M568.5,1087.7v-5M568.5,777.6v5M584.4,1087.7v-5M584.4,777.6v5M600.2,1087.7v-9.5M600.2,777.6v9.5M616,1087.7v-5M616,777.6v5M631.9,1087.7v-5M631.9,777.6v5M647.7,1087.7v-5M647.7,777.6v5M663.6,1087.7v-5M663.6,777.6v5M679.4,1087.7v-9.5M679.4,777.6v9.5M77.5,777.6h17M679.4,777.6h-17M77.5,831.8h8.5M679.4,831.8h-8.5M77.5,818.1h8.5M679.4,818.1h-8.5M77.5,808.5h8.5M679.4,808.5h-8.5M77.5,800.9h8.5M679.4,800.9h-8.5M77.5,794.8h8.5M679.4,794.8h-8.5M77.5,789.6h8.5M679.4,789.6h-8.5M77.5,785.1h8.5M679.4,785.1h-8.5M77.5,781.1h8.5M679.4,781.1h-8.5M77.5,855.1h17M679.4,855.1h-17M77.5,909.3h8.5M679.4,909.3h-8.5M77.5,895.7h8.5M679.4,895.7h-8.5M77.5,886h8.5M679.4,886h-8.5M77.5,878.5h8.5M679.4,878.5h-8.5M77.5,872.3h8.5M679.4,872.3h-8.5M77.5,867.1h8.5M679.4,867.1h-8.5M77.5,862.6h8.5M679.4,862.6h-8.5M77.5,858.7h8.5M679.4,858.7h-8.5M77.5,932.7h17M679.4,932.7h-17M77.5,986.8h8.5M679.4,986.8h-8.5M77.5,973.2h8.5M679.4,973.2h-8.5M77.5,963.5h8.5M679.4,963.5h-8.5M77.5,956h8.5M679.4,956h-8.5M77.5,949.8h8.5M679.4,949.8h-8.5M77.5,944.7h8.5M679.4,944.7h-8.5M77.5,940.2h8.5M679.4,940.2h-8.5M77.5,936.2h8.5M679.4,936.2h-8.5M77.5,1010.2h17M679.4,1010.2h-17M77.5,1064.4h8.5M679.4,1064.4h-8.5M77.5,1050.7h8.5M679.4,1050.7h-8.5M77.5,1041h8.5M679.4,1041h-8.5M77.5,1033.5h8.5M679.4,1033.5h-8.5M77.5,1027.4h8.5M679.4,1027.4h-8.5M77.5,1022.2h8.5M679.4,1022.2h-8.5M77.5,1017.7h8.5M679.4,1017.7h-8.5M77.5,1013.7h8.5M679.4,1013.7h-8.5M77.5,1087.7h17M679.4,1087.7h-17" stroke="#000" stroke-width="1.1" fill="none"/>
<rect x="77.5" y="777.6" width="601.9" height="310.1" fill="none" stroke="#000" stroke-width="1.3"/>
<text transform="translate(124.1,1110.6) scale(1.08,1)" font-size="23.2" text-anchor="middle">0</text>
<text transform="translate(203.3,1110.6) scale(1.08,1)" font-size="23.2" text-anchor="middle">1</text>
<text transform="translate(282.5,1110.6) scale(1.08,1)" font-size="23.2" text-anchor="middle">2</text>
<text transform="translate(361.7,1110.6) scale(1.08,1)" font-size="23.2" text-anchor="middle">3</text>
<text transform="translate(440.9,1110.6) scale(1.08,1)" font-size="23.2" text-anchor="middle">4</text>
<text transform="translate(520.1,1110.6) scale(1.08,1)" font-size="23.2" text-anchor="middle">5</text>
<text transform="translate(599.3,1110.6) scale(1.08,1)" font-size="23.2" text-anchor="middle">6</text>
<text transform="translate(679,1110.6) scale(1.08,1)" font-size="23.2" text-anchor="middle">7</text>
<text transform="translate(346.5,1133.9) scale(1.08,1)" font-size="24.5"><tspan class="sy" font-size="25">λ</tspan><tspan x="25">[m]</tspan></text>
<text transform="translate(69.8,786) scale(1.08,1)" font-size="23.2" text-anchor="end">10</text>
<text transform="translate(73.6,863.5) scale(1.08,1)" font-size="23.2" text-anchor="end">1</text>
<text transform="translate(28.6,944.1) scale(1.08,1)" font-size="23.2">10<tspan x="23.8" dy="-9.4" font-size="16" stroke="none">−</tspan><tspan x="31.4" dy="-1.2" font-size="16">1</tspan></text>
<text transform="translate(25,1021.6) scale(1.08,1)" font-size="23.2">10<tspan x="23.8" dy="-9.4" font-size="16" stroke="none">−</tspan><tspan x="32.6" dy="-1.2" font-size="16">2</tspan></text>
<text transform="translate(25,1099.1) scale(1.08,1)" font-size="23.2">10<tspan x="23.8" dy="-9.4" font-size="16" stroke="none">−</tspan><tspan x="32.6" dy="-1.2" font-size="16">3</tspan></text>
<text transform="translate(19.3,980.1) rotate(-90) scale(1.08,1)" font-size="24.5">R<tspan class="sy" x="16.4" dy="8.2" font-size="17">λ</tspan><tspan x="36.9" dy="-8.2">[</tspan><tspan x="46.6">m</tspan><tspan x="67.3" dy="-8.3" font-size="14">-</tspan><tspan x="70.4" font-size="14">1</tspan><tspan x="82.3" dy="8.3">]</tspan></text>
<text transform="translate(581.1,1000.9) scale(1.03,1)" font-size="32.5">(c)</text>
<rect x="274.7" y="803.9" width="377.8" height="149.6" fill="#fff" stroke="#222" stroke-width="1.2"/>
<text transform="translate(281,830.7) scale(1.047,1)" font-size="25.8">E = 2 MeV</text>
<path d="M286,860.2H339" stroke="#222" stroke-width="1.15" fill="none"/>
<text transform="translate(356.3,868) scale(1.047,1)" font-size="25.8">Raw RF (<tspan class="sy" font-size="26.5">σ</tspan><tspan dy="9.4" dx="2.5" font-size="16.5">T</tspan><tspan dy="-9.4" dx="-0.6"> = 0 ns)</tspan></text>
<path d="M286,897.6H339" stroke="#ff3333" stroke-width="2.1" fill="none"/>
<text transform="translate(356.3,905.4) scale(1.047,1)" font-size="25.8">Fitted RF (<tspan class="sy" font-size="26.5">σ</tspan><tspan dy="9.4" dx="2.5" font-size="16.5">T</tspan><tspan dy="-9.4" dx="-0.6"> = 0 ns)</tspan></text>
<path d="M286,935H339" stroke="#00ccff" stroke-width="2.1" fill="none"/>
<text transform="translate(356.3,942.8) scale(1.047,1)" font-size="25.8">Smeared RF (<tspan class="sy" font-size="26.5">σ</tspan><tspan dy="9.4" dx="2.5" font-size="16.5">T</tspan><tspan dy="-9.4" dx="-0.6"> = 7 ns)</tspan></text>
</g>
</svg>
</body></html>
